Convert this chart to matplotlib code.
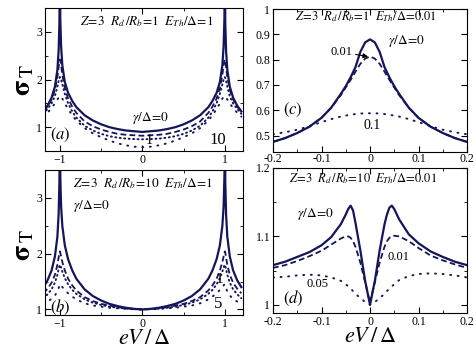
import matplotlib
matplotlib.use("Agg")
import matplotlib.pyplot as plt
from matplotlib.ticker import MultipleLocator

plt.rcParams["font.family"] = "Liberation Serif"
plt.rcParams["mathtext.fontset"] = "stix"

# --- panels (a), (b): eV/Delta from -1.2 to 1.2
x_ab = [-1.2, -1.15, -1.1, -1.06, -1.03, -1.015, -1.005, -1.0, -0.995, -0.985, -0.97,
        -0.94, -0.9, -0.85, -0.8, -0.7, -0.6, -0.5, -0.4, -0.3, -0.2, -0.1, 0.0,
        0.1, 0.2, 0.3, 0.4, 0.5, 0.6, 0.7, 0.8, 0.85, 0.9, 0.94, 0.97, 0.985, 0.995,
        1.0, 1.005, 1.015, 1.03, 1.06, 1.1, 1.15, 1.2]

a_g0 = [1.33, 1.45, 1.62, 1.85, 2.2, 2.6, 3.2, 4.5, 3.3, 2.7, 2.3, 1.95, 1.72, 1.55, 1.42,
        1.25, 1.14, 1.06, 1.0, 0.96, 0.93, 0.915, 0.9,
        0.915, 0.93, 0.96, 1.0, 1.06, 1.14, 1.25, 1.42, 1.55, 1.72, 1.95, 2.3, 2.7, 3.3,
        4.5, 3.2, 2.6, 2.2, 1.85, 1.62, 1.45, 1.33]
a_g1 = [1.33, 1.43, 1.58, 1.78, 2.05, 2.25, 2.4, 2.42, 2.4, 2.3, 2.1, 1.82, 1.6, 1.43, 1.3,
        1.12, 1.02, 0.95, 0.9, 0.86, 0.84, 0.83, 0.82,
        0.83, 0.84, 0.86, 0.9, 0.95, 1.02, 1.12, 1.3, 1.43, 1.6, 1.82, 2.1, 2.3, 2.4,
        2.42, 2.4, 2.25, 2.05, 1.78, 1.58, 1.43, 1.33]
a_g2 = [1.28, 1.38, 1.5, 1.65, 1.85, 1.97, 2.03, 2.05, 2.04, 2.0, 1.9, 1.7, 1.5, 1.33, 1.2,
        1.03, 0.93, 0.86, 0.81, 0.78, 0.76, 0.75, 0.745,
        0.75, 0.76, 0.78, 0.81, 0.86, 0.93, 1.03, 1.2, 1.33, 1.5, 1.7, 1.9, 2.0, 2.04,
        2.05, 2.03, 1.97, 1.85, 1.65, 1.5, 1.38, 1.28]
a_g10 = [1.22, 1.3, 1.4, 1.5, 1.58, 1.62, 1.64, 1.65, 1.65, 1.64, 1.6, 1.5, 1.38, 1.25, 1.14,
         0.98, 0.87, 0.79, 0.72, 0.66, 0.62, 0.59, 0.58,
         0.59, 0.62, 0.66, 0.72, 0.79, 0.87, 0.98, 1.14, 1.25, 1.38, 1.5, 1.6, 1.64, 1.65,
         1.65, 1.64, 1.62, 1.58, 1.5, 1.4, 1.3, 1.22]

b_g0 = [1.4, 1.52, 1.7, 1.95, 2.3, 2.7, 3.3, 4.5, 3.4, 2.85, 2.5, 2.15, 1.9, 1.7, 1.55,
        1.36, 1.24, 1.16, 1.1, 1.06, 1.03, 1.01, 1.0,
        1.01, 1.03, 1.06, 1.1, 1.16, 1.24, 1.36, 1.55, 1.7, 1.9, 2.15, 2.5, 2.85, 3.4,
        4.5, 3.3, 2.7, 2.3, 1.95, 1.7, 1.52, 1.4]
b_g1 = [1.29, 1.37, 1.48, 1.62, 1.8, 1.93, 2.02, 2.04, 2.02, 1.95, 1.85, 1.7, 1.55, 1.43, 1.34,
        1.22, 1.15, 1.1, 1.07, 1.04, 1.02, 1.01, 1.0,
        1.01, 1.02, 1.04, 1.07, 1.1, 1.15, 1.22, 1.34, 1.43, 1.55, 1.7, 1.85, 1.95, 2.02,
        2.04, 2.02, 1.93, 1.8, 1.62, 1.48, 1.37, 1.29]
b_g2 = [1.2, 1.27, 1.36, 1.48, 1.62, 1.72, 1.78, 1.8, 1.79, 1.75, 1.68, 1.56, 1.45, 1.35, 1.28,
        1.18, 1.12, 1.08, 1.05, 1.03, 1.015, 1.005, 1.0,
        1.005, 1.015, 1.03, 1.05, 1.08, 1.12, 1.18, 1.28, 1.35, 1.45, 1.56, 1.68, 1.75, 1.79,
        1.8, 1.78, 1.72, 1.62, 1.48, 1.36, 1.27, 1.2]
b_g5 = [1.1, 1.14, 1.19, 1.25, 1.32, 1.38, 1.43, 1.45, 1.45, 1.43, 1.4, 1.35, 1.29, 1.23, 1.18,
        1.11, 1.07, 1.05, 1.03, 1.02, 1.01, 1.003, 1.0,
        1.003, 1.01, 1.02, 1.03, 1.05, 1.07, 1.11, 1.18, 1.23, 1.29, 1.35, 1.4, 1.43, 1.45,
        1.45, 1.43, 1.38, 1.32, 1.25, 1.19, 1.14, 1.1]

# --- panel (c)
x_c = [-0.2, -0.175, -0.15, -0.125, -0.1, -0.08, -0.06, -0.05, -0.04, -0.03, -0.02, -0.01, 0.0,
       0.01, 0.02, 0.03, 0.04, 0.05, 0.06, 0.08, 0.1, 0.125, 0.15, 0.175, 0.2]
c_g0 = [0.475, 0.49, 0.51, 0.535, 0.57, 0.61, 0.665, 0.695, 0.73, 0.77, 0.83, 0.868, 0.88,
        0.868, 0.83, 0.77, 0.73, 0.695, 0.665, 0.61, 0.57, 0.535, 0.51, 0.49, 0.475]
c_g001 = [0.475, 0.49, 0.51, 0.535, 0.57, 0.61, 0.66, 0.69, 0.72, 0.752, 0.783, 0.804, 0.812,
          0.804, 0.783, 0.752, 0.72, 0.69, 0.66, 0.61, 0.57, 0.535, 0.51, 0.49, 0.475]
c_g01 = [0.505, 0.513, 0.523, 0.537, 0.553, 0.565, 0.575, 0.579, 0.582, 0.585, 0.587, 0.588, 0.588,
         0.588, 0.587, 0.585, 0.582, 0.579, 0.575, 0.565, 0.553, 0.537, 0.523, 0.513, 0.505]

# --- panel (d)
x_d = [-0.2, -0.175, -0.15, -0.125, -0.1, -0.08, -0.06, -0.05, -0.045, -0.04, -0.035, -0.03,
       -0.02, -0.01, 0.0, 0.01, 0.02, 0.03, 0.035, 0.04, 0.045, 0.05, 0.06, 0.08, 0.1,
       0.125, 0.15, 0.175, 0.2]
d_g0 = [1.058, 1.063, 1.07, 1.077, 1.087, 1.099, 1.118, 1.132, 1.14, 1.145, 1.138, 1.12,
        1.08, 1.035, 1.0, 1.035, 1.08, 1.118, 1.132, 1.142, 1.145, 1.14, 1.125, 1.103, 1.09,
        1.078, 1.07, 1.063, 1.058]
d_g001 = [1.054, 1.058, 1.064, 1.071, 1.079, 1.088, 1.097, 1.1, 1.1, 1.098, 1.093, 1.085,
          1.062, 1.033, 1.003, 1.033, 1.062, 1.085, 1.093, 1.098, 1.1, 1.101, 1.1, 1.093, 1.083,
          1.072, 1.065, 1.059, 1.054]
d_g005 = [1.04, 1.041, 1.043, 1.044, 1.043, 1.04, 1.035, 1.03, 1.027, 1.024, 1.02, 1.016,
          1.01, 1.004, 1.0, 1.004, 1.01, 1.016, 1.02, 1.024, 1.027, 1.03, 1.036, 1.042, 1.045,
          1.046, 1.045, 1.043, 1.04]

col = "#15155a"
solid = dict(color=col, lw=1.6, ls="-")
dashed = dict(color=col, lw=1.3, ls=(0, (3.2, 1.8)))
dots = dict(color=col, lw=1.4, ls=(0, (0.5, 1.8)), dash_capstyle="round")
sparse = dict(color=col, lw=1.4, ls=(0, (0.5, 3.4)), dash_capstyle="round")

fig = plt.figure(figsize=(4.74, 3.49), dpi=100)
ax_a = fig.add_axes([45 / 474, 1 - 151 / 349, 198 / 474, 143 / 349])
ax_b = fig.add_axes([45 / 474, 1 - 315 / 349, 198 / 474, 145 / 349])
ax_c = fig.add_axes([273 / 474, 1 - 152 / 349, 194 / 474, 143 / 349])
ax_d = fig.add_axes([273 / 474, 1 - 313 / 349, 194 / 474, 145 / 349])

ax_a.plot(x_ab, a_g10, **sparse)
ax_a.plot(x_ab, a_g2, **dots)
ax_a.plot(x_ab, a_g1, **dashed)
ax_a.plot(x_ab, a_g0, **solid)

ax_b.plot(x_ab, b_g5, **sparse)
ax_b.plot(x_ab, b_g2, **dots)
ax_b.plot(x_ab, b_g1, **dashed)
ax_b.plot(x_ab, b_g0, **solid)

ax_c.plot(x_c, c_g01, **sparse)
ax_c.plot(x_c, c_g001, **dashed)
ax_c.plot(x_c, c_g0, **solid)

ax_d.plot(x_d, d_g005, **sparse)
ax_d.plot(x_d, d_g001, **dashed)
ax_d.plot(x_d, d_g0, **solid)

for ax in (ax_a, ax_b):
    ax.set_xlim(-1.18, 1.22)
    ax.xaxis.set_major_locator(MultipleLocator(1))
    ax.xaxis.set_minor_locator(MultipleLocator(0.5))
    ax.yaxis.set_major_locator(MultipleLocator(1))
    ax.yaxis.set_minor_locator(MultipleLocator(0.5))
ax_a.set_ylim(0.5, 3.5)
ax_b.set_ylim(0.9, 3.5)

for ax in (ax_c, ax_d):
    ax.set_xlim(-0.2, 0.2)
    ax.xaxis.set_minor_locator(MultipleLocator(0.05))
    ax.set_xticks([-0.2, -0.1, 0, 0.1, 0.2])
    ax.set_xticklabels(["-0.2", "-0.1", "0", "0.1", "0.2"])
ax_c.set_ylim(0.435, 1.0)
ax_c.set_yticks([0.5, 0.6, 0.7, 0.8, 0.9, 1.0])
ax_c.set_yticklabels(["0.5", "0.6", "0.7", "0.8", "0.9", "1"])
ax_d.set_ylim(0.988, 1.2)
ax_d.set_yticks([1.0, 1.1, 1.2])
ax_d.set_yticklabels(["1", "1.1", "1.2"])
ax_d.yaxis.set_minor_locator(MultipleLocator(0.05))

for ax in (ax_a, ax_b, ax_c, ax_d):
    ax.tick_params(which="both", direction="in", top=True, right=True, labelsize=8.5, pad=2)
    ax.tick_params(which="major", length=4)
    ax.tick_params(which="minor", length=2)
ax_c.tick_params(axis="x", pad=1)

# sigma_T labels on the left
for yc in (80, 245):
    fig.text(22 / 474, 1 - yc / 349, r"$\mathbf{\sigma}_{\,\mathrm{T}}$", fontsize=20,
             family="DejaVu Sans", rotation=90, ha="center", va="center")
for ax in (ax_b, ax_d):
    ax.set_xlabel(r"$eV\,/\,\Delta$", fontsize=16, labelpad=0)

ts = 9.5
ax_a.text(-0.75, 3.22, r"$Z\!=\!3\ \ R_d\,/R_b\!=\!1\ \ E_{Th}/\Delta\!=\!1$", fontsize=ts, va="center")
ax_a.text(0.1, 1.2, r"$\gamma/\Delta\!=\!0$", fontsize=ts, ha="center", va="center")
ax_a.text(0.08, 0.72, "1", fontsize=10, ha="center", va="center")
ax_a.text(0.92, 0.74, "10", fontsize=12, ha="center", va="center")
ax_a.text(-1.0, 0.84, r"$(a)$", fontsize=12, ha="center", va="center")

ax_b.text(-0.84, 3.25, r"$Z\!=\!3\ \ R_d\,/R_b\!=\!10\ \ E_{Th}/\Delta\!=\!1$", fontsize=ts, va="center")
ax_b.text(-0.84, 2.86, r"$\gamma/\Delta\!=\!0$", fontsize=ts, va="center")
ax_b.text(0.94, 1.54, "1", fontsize=11, ha="center", va="center")
ax_b.text(0.92, 1.09, "5", fontsize=12, ha="center", va="center")
ax_b.text(-1.0, 1.03, r"$(b)$", fontsize=12, ha="center", va="center")

ax_c.text(-0.155, 0.97, r"$Z\!=\!3\ \ R_d\,/R_b\!=\!1\ \ E_{Th}/\Delta\!=\!0.01$", fontsize=9, va="center")
ax_c.text(0.037, 0.875, r"$\gamma/\Delta\!=\!0$", fontsize=ts, va="center")
ax_c.annotate("0.01", xy=(-0.004, 0.812), xytext=(-0.058, 0.83), fontsize=9,
              ha="center", va="center",
              arrowprops=dict(arrowstyle="-|>", color="black", lw=0.8, mutation_scale=7,
                              shrinkA=10, shrinkB=0))
ax_c.text(0.005, 0.54, "0.1", fontsize=10, ha="center", va="center")
ax_c.text(-0.16, 0.6, r"$(c)$", fontsize=12, ha="center", va="center")

ax_d.text(-0.167, 1.184, r"$Z\!=\!3\ \ R_d\,/R_b\!=\!10\ \ E_{Th}/\Delta\!=\!0.01$", fontsize=9, va="center")
ax_d.text(-0.15, 1.133, r"$\gamma/\Delta\!=\!0$", fontsize=ts, va="center")
ax_d.text(0.037, 1.07, "0.01", fontsize=9, va="center")
ax_d.text(-0.13, 1.03, "0.05", fontsize=9, va="center")
ax_d.text(-0.18, 1.01, r"$(d)$", fontsize=12, va="center")

fig.savefig("out.png", dpi=100)
